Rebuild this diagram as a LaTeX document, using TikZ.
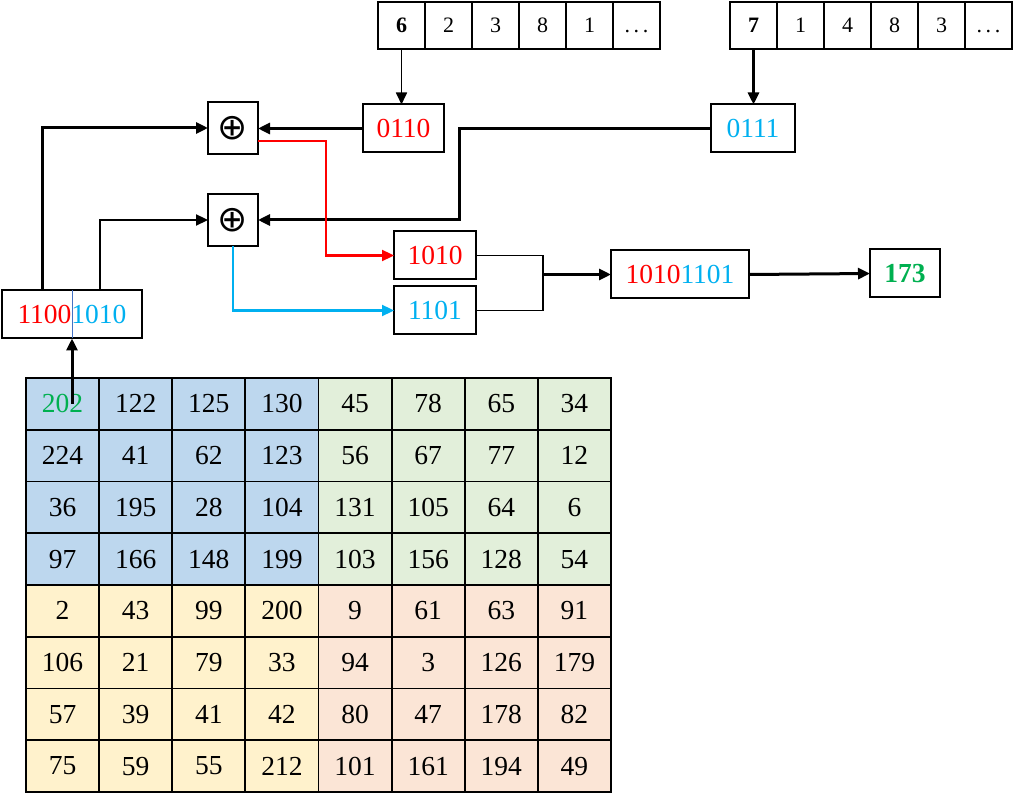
\documentclass[tikz,border=0pt]{standalone}
\usepackage{fontspec}
\setmainfont{Liberation Serif}
\newfontfamily\dvsans{DejaVu Sans}
\usetikzlibrary{arrows.meta,calc}
\definecolor{cblue}{HTML}{BDD7EE}
\definecolor{cgreen}{HTML}{E2EFDA}
\definecolor{cyellow}{HTML}{FFF2CC}
\definecolor{cpink}{HTML}{FBE5D6}
\definecolor{tred}{HTML}{FF0000}
\definecolor{tcyan}{HTML}{00B0F0}
\definecolor{tgreen}{HTML}{00B050}
\definecolor{divblue}{HTML}{4472C4}
\newcommand{\mydots}{\vphantom{0}.\hspace{0.17em}.\hspace{0.17em}.}
\begin{document}
\begin{tikzpicture}[x=1pt,y=-1pt,
  bx/.style={draw, line width=2pt, minimum width=#1, minimum height=48pt, inner sep=0pt, outer sep=0pt, font=\fontsize{27.5}{30}\selectfont},
  xbox/.style={draw, line width=2pt, minimum width=50pt, minimum height=52pt, inner sep=0pt, outer sep=0pt, font=\dvsans\fontsize{36}{36}\selectfont},
  acell/.style={draw, line width=1.7pt, minimum width=47pt, minimum height=47pt, inner sep=0pt, outer sep=0pt, font=\fontsize{22}{26}\selectfont},
  tcell/.style={draw, line width=1.9pt, minimum width=73.125pt, minimum height=51.75pt, inner sep=0pt, outer sep=0pt, font=\fontsize{27.5}{30}\selectfont},
  tip/.style={-{Triangle[length=12pt,width=11pt]}},
  arrthick/.style={tip, line width=3pt},
  arrmid/.style={tip, line width=2.3pt},
  arrthin/.style={tip, line width=1.7pt},
  thinline/.style={line width=1.7pt}
]
\useasboundingbox (0,0) rectangle (1013,794);

% key arrays
\foreach \v [count=\j] in {\textbf{6},2,3,8,1,\mydots}
  \node[acell] (a\j) at ({378+47*(\j-0.5)},25.5) {\v};
\foreach \v [count=\j] in {\textbf{7},1,4,8,3,\mydots}
  \node[acell] (q\j) at ({730+47*(\j-0.5)},25.5) {\v};

% table
\foreach \row [count=\i] in {
  {202,122,125,130,45,78,65,34},
  {224,41,62,123,56,67,77,12},
  {36,195,28,104,131,105,64,6},
  {97,166,148,199,103,156,128,54},
  {2,43,99,200,9,61,63,91},
  {106,21,79,33,94,3,126,179},
  {57,39,41,42,80,47,178,82},
  {75,59,55,212,101,161,194,49}} {
  \foreach \v [count=\j] in \row {
    \ifnum\i<5 \ifnum\j<5 \def\cc{cblue}\else\def\cc{cgreen}\fi
    \else \ifnum\j<5 \def\cc{cyellow}\else\def\cc{cpink}\fi\fi
    \def\tc{black}
    \ifnum\i=1 \ifnum\j=1 \def\tc{tgreen}\fi\fi
    \node[tcell, fill=\cc, text=\tc] (t\i-\j) at ({26+73.125*(\j-0.5)},{378+51.75*(\i-0.5)}) {\v};
  }
}

% boxes
\node[bx=81pt, text=tred] (p1) at (403.5,128.5) {0110};
\node[bx=84pt, text=tcyan] (p2) at (753,128.5) {0111};
\node[xbox] (x1) at (233,128) {⊕};
\node[xbox] (x2) at (233,220) {⊕};
\node[bx=140pt] (k) at (72,314.5) {\textcolor{tred}{1100}\textcolor{tcyan}{1010}};
\node[bx=82pt, text=tred] (b1) at (435,255.5) {1010};
\node[bx=82pt, text=tcyan] (b2) at (435,310.5) {1101};
\node[bx=138pt] (c) at (680,274.5) {\textcolor{tred}{1010}\textcolor{tcyan}{1101}};
\node[bx=70pt, text=tgreen] (d) at (905,273.5) {\textbf{173}};

% connectors
\draw[arrthin] (a1.south) -- (a1.south |- p1.north);
\draw[arrthick] (q1.south) -- (q1.south |- p2.north);
\draw[arrthick] (p1.west) -- (p1.west -| x1.east);
\coordinate (turn) at ($(x2.east)+(201,0)$);
\draw[arrthick] (p2.west) -| (turn) -- (x2.east);
\coordinate (k1) at ($(k.north)+(-30,0)$);
\coordinate (k2) at ($(k.north)+(28,0)$);
\draw[arrthick] (k1) |- (x1.west);
\draw[arrmid] (k2) |- (x2.west);
\coordinate (r0) at ($(x1.east)+(0,13)$);
\coordinate (r1) at ($(b1.west)+(-68,0)$);
\draw[arrmid, tred] (r0) -| (r1) -- (b1.west);
\draw[arrmid, tcyan] (x2.south) |- (b2.west);
\coordinate (br) at ($(b1.east)+(67,0)$);
\draw[thinline] (b1.east) -- (br) |- (b2.east);
\draw[arrthick] (br |- c.west) -- (c.west);
\draw[arrthick] (c.east) -- (d.west);
\draw[divblue, line width=1pt] (k.north) -- (k.south);
\draw[arrthick] (t1-1.center -| k.south) -- (k.south);
\end{tikzpicture}
\end{document}
